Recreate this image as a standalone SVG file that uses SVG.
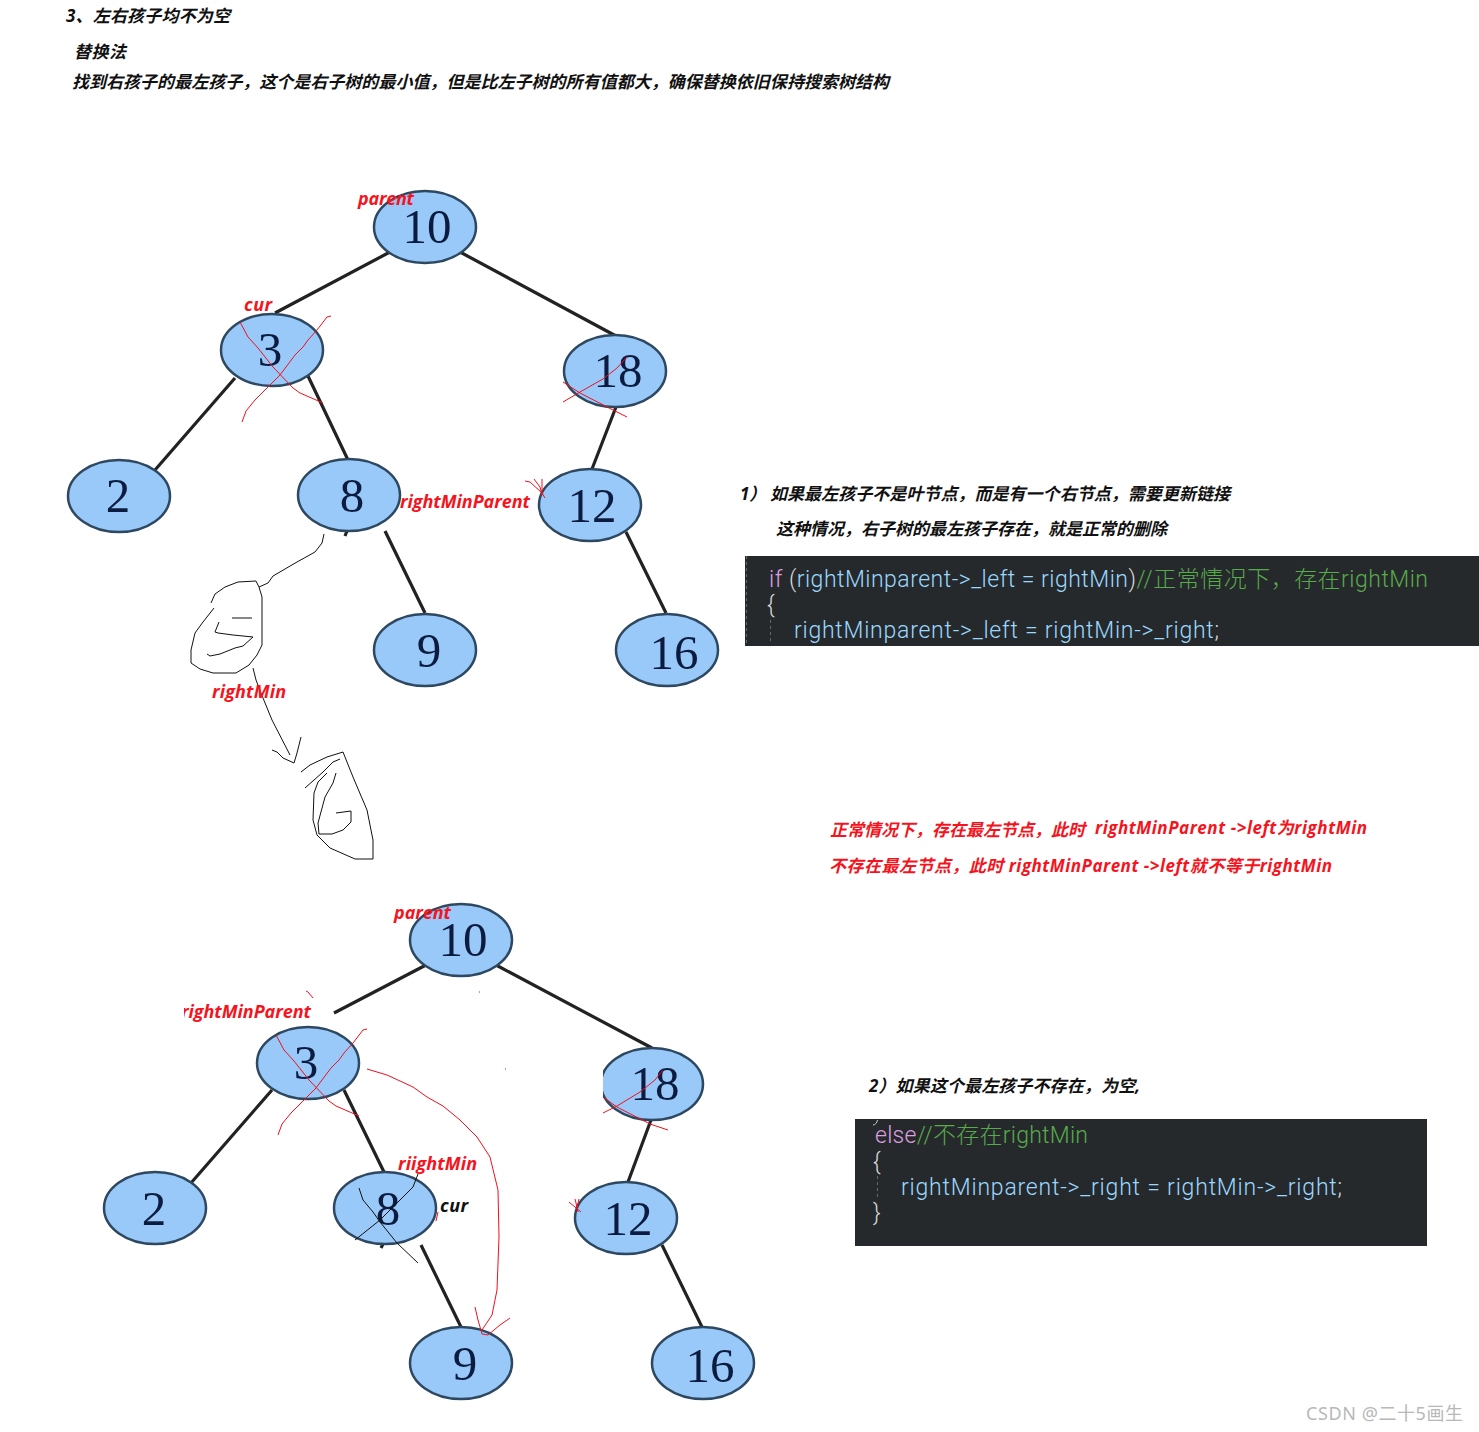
<svg xmlns="http://www.w3.org/2000/svg" xmlns:xlink="http://www.w3.org/1999/xlink" width="1479" height="1432" viewBox="0 0 1479 1432">
<style>
text{white-space:pre}
.h{font-family:"Open Sans","Noto Sans CJK SC",sans-serif;font-weight:700;font-style:italic;font-size:17px;fill:#111}
.l{font-family:"Open Sans","Noto Sans CJK SC",sans-serif;font-weight:700;font-style:italic;font-size:18px;fill:#f5141e}
.n ellipse{fill:#99c9f9;stroke:#2d4860;stroke-width:2.500}
.n text{font-family:"Liberation Serif",serif;font-size:49px;fill:#0c1c40;text-anchor:middle}
.e{stroke:#222;stroke-width:3.200;fill:none}
.sr{stroke:#f0101c;stroke-width:1;fill:none}
.sb{stroke:#111;stroke-width:1;fill:none}
.c{font-family:Roboto,"Noto Sans CJK SC",sans-serif;font-weight:300;font-size:23px;fill:#9ad8ff}
.k{fill:#dc9fe0}.g{fill:#57ab4b}.w{fill:#d8d8d8}
.wm{font-family:"Noto Sans","Noto Sans CJK SC",sans-serif;font-size:18px;fill:#b8b8b8}
</style>
<defs>
<path id="cross3" d="M240 322L248 337L258 348L273 367L293 388L300 393L323 403M331 316L327 317L317 330L308 340L303 347L295 355L280 375L255 400L246 411L242 422"/>
<clipPath id="clipLabel"><rect x="184" y="995" width="135" height="35"/></clipPath>
</defs>

<g id="connectors">
<path class="e" d="M390 252L275 313M460 252L616 336M235 378L155 470M308 376L348 460M616 407L592 469M626 532L666 613M385 531L425 613M347 531L345 536"/>
<path class="e" d="M426 965L334 1013M496 965L652 1048M272 1090L191 1183M344 1090L384 1172M651 1120L628 1182M662 1245L702 1327M421 1245L461 1327M383 1244L381 1248"/>
</g>

<g id="node-t1-10" class="n"><ellipse cx="425" cy="227" rx="51" ry="36"/><text x="427" y="243">10</text></g>
<g id="node-t1-3" class="n"><ellipse cx="272" cy="350" rx="51" ry="36"/><text x="270" y="366">3</text></g>
<g id="node-t1-18" class="n"><ellipse cx="615" cy="371" rx="51" ry="36"/><text x="618" y="387">18</text></g>
<g id="node-t1-2" class="n"><ellipse cx="119" cy="496" rx="51" ry="36"/><text x="118" y="512">2</text></g>
<g id="node-t1-8" class="n"><ellipse cx="349" cy="495" rx="51" ry="36"/><text x="352" y="512">8</text></g>
<g id="node-t1-12" class="n"><ellipse cx="590" cy="505" rx="51" ry="36"/><text x="592" y="522">12</text></g>
<g id="node-t1-9" class="n"><ellipse cx="425" cy="650" rx="51" ry="36"/><text x="429" y="667">9</text></g>
<g id="node-t1-16" class="n"><ellipse cx="667" cy="650" rx="51" ry="36"/><text x="674" y="669">16</text></g>

<g id="node-t2-10" class="n"><ellipse cx="461" cy="940" rx="51" ry="36"/><text x="463" y="956">10</text></g>
<g id="node-t2-3" class="n"><ellipse cx="308" cy="1063" rx="51" ry="36"/><text x="306" y="1079">3</text></g>
<g id="node-t2-18" class="n"><ellipse cx="652" cy="1084" rx="51" ry="36"/><text x="655" y="1100">18</text><rect x="596" y="1045" width="7" height="80" fill="#fff"/></g>
<g id="node-t2-2" class="n"><ellipse cx="155" cy="1208" rx="51" ry="36"/><text x="154" y="1225">2</text></g>
<g id="node-t2-8" class="n"><ellipse cx="385" cy="1208" rx="51" ry="36"/><text x="388" y="1225">8</text></g>
<g id="node-t2-12" class="n"><ellipse cx="626" cy="1218" rx="51" ry="36"/><text x="628" y="1235">12</text></g>
<g id="node-t2-9" class="n"><ellipse cx="461" cy="1363" rx="51" ry="36"/><text x="465" y="1380">9</text></g>
<g id="node-t2-16" class="n"><ellipse cx="703" cy="1363" rx="51" ry="36"/><text x="710" y="1382">16</text></g>

<g id="scribbles">
<use href="#cross3" class="sr"/>
<use href="#cross3" class="sr" transform="translate(36 713)"/>
<path class="sr" d="M563 382L580 393L613 410L627 417M563 402L580 392L603 379L617 368L627 357"/>
<path class="sr" d="M525 481L530 482L542 493L545 498M534 479L540 487L542 495M542 479L542 495"/>
<path class="sr" d="M603 1097L617 1107L650 1124L668 1130M603 1113L617 1106L640 1092L655 1080L663 1070"/>
<path class="sr" d="M569 1202L581 1212M575 1199L577 1207M579 1199L577 1207M577 1207L578 1212"/>
<path class="sr" d="M367 1069L387 1075L413 1087L427 1097L443 1106L460 1120L477 1137L490 1157L498 1190L499 1237L497 1290L492 1315L482 1330M475 1307L478 1320L482 1334L488 1335L500 1325L510 1318"/>
<path class="sr" d="M306 991L308 992L313 998M479 992L480 992M505 1069L506 1069"/>
<path class="sr" stroke-width="2" d="M438 1212L436 1221"/>
<path class="sb" d="M324 534L322 543L315 552L297 562L273 576L268 583L259 587"/>
<path class="sb" d="M211 603L215 594L225 587L238 582L256 581L259 587L262 597L262 645L257 655L249 665L236 673L213 673L200 669L191 663L191 650L195 633L203 622L214 608"/>
<path class="sb" d="M232 618L252 618M219 622L215 632L218 633L233 635L253 637L243 646L235 648L220 654L210 656L207 654"/>
<path class="sb" d="M253 668L256 680L263 698L272 720L290 755M272 750L277 752L283 758L294 763L297 753L301 737"/>
<path class="sb" d="M301 772L310 765L327 757L343 752L353 777L367 810L373 840L373 859L355 859L330 848L317 835L313 820L314 793L318 782L327 773M305 788L323 772L333 762L340 759"/>
<path class="sb" d="M336 773L333 783L325 797L318 823L319 834L332 834L343 830L351 822L351 811L336 813"/>
<path class="sb" d="M418 1174L413 1187L402 1198L380 1220L355 1240M359 1188L363 1200L373 1212L380 1222L397 1243L418 1263"/>
</g>

<g id="labels">
<text class="l" x="358" y="205" textLength="56">parent</text>
<text class="l" x="244" y="311" textLength="28">cur</text>
<text class="l" x="400" y="508" textLength="130">rightMinParent</text>
<text class="l" x="212" y="698" textLength="74">rightMin</text>
<text class="l" x="394" y="919" textLength="57">parent</text>
<g clip-path="url(#clipLabel)"><text class="l" x="181" y="1018" textLength="130">rightMinParent</text></g>
<text class="l" x="398" y="1170" textLength="79">riightMin</text>
<text class="l" x="440" y="1212" textLength="28" style="fill:#111">cur</text>
</g>

<g id="notes">
<text class="h" x="66" y="22" textLength="164">3、左右孩子均不为空</text>
<text class="h" x="74" y="58" textLength="52">替换法</text>
<text class="h" x="72" y="88" textLength="817">找到右孩子的最左孩子，这个是右子树的最小值，但是比左子树的所有值都大，确保替换依旧保持搜索树结构</text>
<text class="h" x="740" y="500">1）</text>
<text class="h" x="770" y="500" textLength="460">如果最左孩子不是叶节点，而是有一个右节点，需要更新链接</text>
<text class="h" x="776" y="535" textLength="391">这种情况，右子树的最左孩子存在，就是正常的删除</text>
<text class="h" x="830" y="836" textLength="255" style="fill:#f5141e">正常情况下，存在最左节点，此时</text>
<text class="h" x="1095" y="834" textLength="272" style="fill:#f5141e">rightMinParent -&gt;left为rightMin</text>
<text class="h" x="829" y="872" textLength="503" style="fill:#f5141e">不存在最左节点，此时 rightMinParent -&gt;left就不等于rightMin</text>
<text class="h" x="869" y="1092" textLength="271">2）如果这个最左孩子不存在，为空,</text>
</g>

<g id="code-1">
<rect x="745" y="556" width="734" height="90" fill="#26292b"/>
<path d="M746.500 556V646M770.500 620V642" stroke="#6a6a6a" stroke-dasharray="3 3" fill="none"/>
<text class="c" x="769" y="587" textLength="659"><tspan class="k">if</tspan><tspan class="w"> (</tspan>rightMinparent-&gt;_left = rightMin<tspan class="w">)</tspan><tspan class="g">//正常情况下，存在rightMin</tspan></text>
<text class="c w" x="767" y="613">{</text>
<text class="c" x="794" y="638" textLength="425">rightMinparent-&gt;_left = rightMin-&gt;_right<tspan class="w">;</tspan></text>
</g>

<g id="code-2">
<rect x="855" y="1119" width="572" height="127" fill="#26292b"/>
<path d="M877.500 1120C877 1123 875 1125 873 1125" stroke="#c8c8c8" fill="none"/>
<path d="M877.500 1176V1198" stroke="#6a6a6a" stroke-dasharray="3 3" fill="none"/>
<text class="c" x="875" y="1143" textLength="213"><tspan class="k">else</tspan><tspan class="g">//不存在rightMin</tspan></text>
<text class="c w" x="873" y="1170">{</text>
<text class="c" x="901" y="1195" textLength="441">rightMinparent-&gt;_right = rightMin-&gt;_right<tspan class="w">;</tspan></text>
<text class="c w" x="873" y="1221">}</text>
</g>

<text class="wm" x="1306" y="1420" textLength="157">CSDN @二十5画生</text>
</svg>
